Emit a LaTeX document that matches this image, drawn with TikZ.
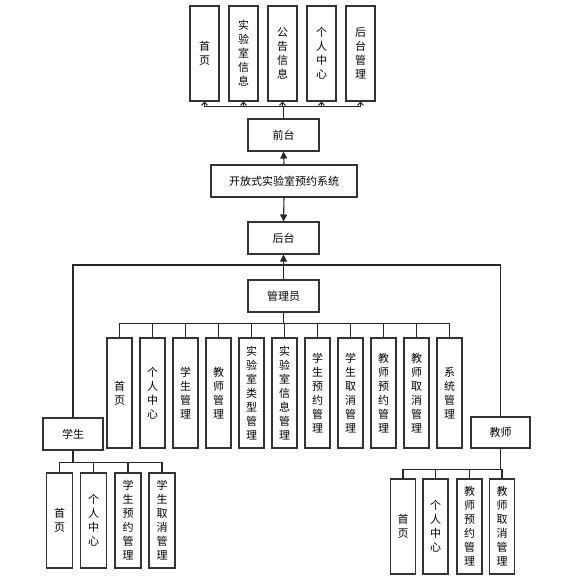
\documentclass[tikz,border=0pt]{standalone}
\usepackage{fontspec}
\setmainfont{Noto Sans CJK SC}
\usetikzlibrary{arrows.meta}

\begin{document}
\begin{tikzpicture}[x=1pt, y=-1pt,
	box/.style = {draw=black!80, line width=1.1pt, inner sep=0pt, align=center, font=\fontsize{11}{14}\selectfont},
	hbox/.style = {box, minimum height=32pt},
	vbox/.style = {box, minimum width=25pt},
	link/.style = {line width=1.1pt, black!85},
	up/.style = {link, -{Triangle[length=7pt, width=7pt]}},
	barb/.style = {link, -{Straight Barb[length=3pt, width=6pt]}}]
	\useasboundingbox (0,0) rectangle (573,581);
	% front part
	\foreach \lbl [count=\i] in {{首\\页}, {实\\验\\室\\信\\息}, {公\\告\\信\\息}, {个\\人\\中\\心}, {后\\台\\管\\理}}
		\node[vbox, minimum width=29pt, minimum height=95pt] (top\i) at (165.5+39*\i, 53.5) {\lbl};
	\node[hbox, minimum width=71pt] (front) at (283.5, 135) {前台};
	\node[hbox, minimum width=146pt] (sys) at (284, 181) {开放式实验室预约系统};
	\node[hbox, minimum width=71pt] (back) at (283.5, 238) {后台};
	\node[hbox, minimum width=71pt] (admin) at (283.5, 296) {管理员};
	\node[hbox, minimum width=60pt] (stu) at (73, 434) {学生};
	\node[hbox, minimum width=59pt, minimum height=31pt] (tea) at (500.5, 432.5) {教师};
	% admin part
	\foreach \lbl [count=\i] in {{首\\页}, {个\\人\\中\\心}, {学\\生\\管\\理}, {教\\师\\管\\理}, {实\\验\\室\\类\\型\\管\\理}, {实\\验\\室\\信\\息\\管\\理}, {学\\生\\预\\约\\管\\理}, {学\\生\\取\\消\\管\\理}, {教\\师\\预\\约\\管\\理}, {教\\师\\取\\消\\管\\理}, {系\\统\\管\\理}}
		\node[vbox, minimum height=110pt] (adm\i) at (86.5+33*\i, 393) {\lbl};
	% student part
	\foreach \lbl/\x [count=\i] in {{首\\页}/59.5, {个\\人\\中\\心}/93.5, {学\\生\\预\\约\\管\\理}/128, {学\\生\\取\\消\\管\\理}/162}
		\node[vbox, minimum width=26pt, minimum height=95pt] (stu\i) at (\x, 520.5) {\lbl};
	% teacher part
	\foreach \lbl/\x [count=\i] in {{首\\页}/403, {个\\人\\中\\心}/435.5, {教\\师\\预\\约\\管\\理}/469.5, {教\\师\\取\\消\\管\\理}/502}
		\node[vbox, minimum height=95pt] (tea\i) at (\x, 526.5) {\lbl};
	% connections
	\foreach \i in {1,...,5}
		\draw[barb] (front.north) -- ++(0,-12) -| (top\i.south);
	\draw[up] (sys.north) -- (front.south);
	\draw[up] (sys.south) -- (back.north);
	\coordinate (hub) at (284, 265);
	\draw[link] (stu.north) |- (hub) -| (tea.north);
	\draw[up] (admin.north) -- (back.south);
	\foreach \i in {1,...,11}
		\draw[link] (admin.south) -- ++(0,11) -| (adm\i.north);
	\foreach \i in {1,...,4}
		\draw[link] (stu.south) -- ++(0,12) -| (stu\i.north);
	\foreach \i in {1,...,4}
		\draw[link] (tea.south) -- ++(0,21) -| (tea\i.north);
\end{tikzpicture}
\end{document}
